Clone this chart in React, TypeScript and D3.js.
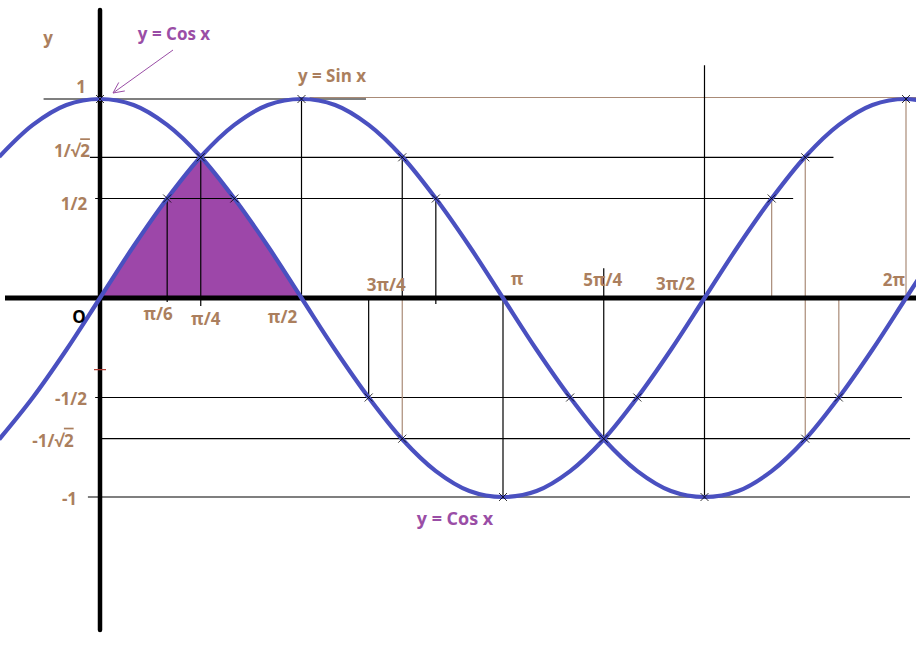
import React from 'react';
import * as d3 from 'd3';

const W = 916;
const H = 645;

// sample positions along x, in multiples of π/12
const angleSteps = [-3, -2, -1, 0, 1, 2, 3, 4, 5, 6, 7, 8, 9, 10, 11, 12, 13, 14, 15, 16, 17, 18, 19, 20, 21, 22, 23, 24, 25];
// values
const sinValues = [-0.71, -0.5, -0.26, 0, 0.26, 0.5, 0.71, 0.87, 0.97, 1, 0.97, 0.87, 0.71, 0.5, 0.26, 0, -0.26, -0.5, -0.71, -0.87, -0.97, -1, -0.97, -0.87, -0.71, -0.5, -0.26, 0, 0.26];
const cosValues = [0.71, 0.87, 0.97, 1, 0.97, 0.87, 0.71, 0.5, 0.26, 0, -0.26, -0.5, -0.71, -0.87, -0.97, -1, -0.97, -0.87, -0.71, -0.5, -0.26, 0, 0.26, 0.5, 0.71, 0.87, 0.97, 1, 0.97];

// axis tick labels
const xTickLabels = ['π/6', 'π/4', 'π/2', '3π/4', 'π', '5π/4', '3π/2', '2π'];
const xTickValues = [1 / 6, 1 / 4, 1 / 2, 3 / 4, 1, 5 / 4, 3 / 2, 2]; // in π
const yTickLabels = ['1', '1/√2', '1/2', '-1/2', '-1/√2', '-1'];
const yTickValues = [1, 0.707, 0.5, -0.5, -0.707, -1];

// horizontal guide lines (value, from t, to t) t in π
const hGuideValues = [1, 1, 0.707, 0.5, -0.5, -0.707, -1];
const hGuideFrom = [-0.14, 0.52, -0.025, -0.012, -0.012, 0, -0.03];
const hGuideTo = [0.66, 2.03, 1.82, 1.72, 1.99, 2.01, 2.01];
const hGuideKind = ['ink', 'pencil', 'ink', 'ink', 'ink', 'ink', 'ink'];

// vertical guide lines (t in π, from value, to value)
const vGuideT = [1 / 6, 1 / 4, 1 / 2, 2 / 3, 3 / 4, 3 / 4, 5 / 6, 1, 5 / 4, 3 / 2, 5 / 3, 7 / 4, 11 / 6, 2];
const vGuideFrom = [0.5, 0.707, 1, 0, 0.707, 0, 0.5, 0, 0.15, 1.17, 0.5, 0.707, 0, 1];
const vGuideTo = [-0.02, -0.04, 0, -0.5, 0, -0.707, -0.03, -1, -0.707, -1, 0, -0.707, -0.5, 0];
const vGuideKind = ['ink', 'ink', 'ink', 'ink', 'ink', 'pencil', 'ink', 'ink', 'ink', 'ink', 'pencil', 'pencil', 'pencil', 'pencil'];

// intersection marks (t in π, value)
const markT = [1 / 6, 1 / 4, 1 / 3, 2 / 3, 3 / 4, 3 / 4, 5 / 6, 7 / 6, 5 / 4, 4 / 3, 5 / 3, 7 / 4, 7 / 4, 11 / 6, 1 / 2, 1, 3 / 2, 2, 0];
const markV = [0.5, 0.707, 0.5, -0.5, 0.707, -0.707, 0.5, -0.5, -0.707, -0.5, 0.5, 0.707, -0.707, -0.5, 1, -1, -1, 1, 1];

const BROWN = '#ab7f5e';
const PURPLE = '#9a4ea6';
const CURVE = '#4a50c0';
const FILL = '#9d47a9';
const PENCIL = '#a98b77';
const FONT = '"Open Sans", "Liberation Sans", sans-serif';

export default function App() {
  const x = d3.scaleLinear().domain([0, 2]).range([100, 906]); // t in π
  const y = d3.scaleLinear().domain([-1, 1]).range([497, 99]);

  const tOf = (k: number) => k / 12;
  const sinPts: [number, number][] = angleSteps.map((k, i) => [x(tOf(k)), y(sinValues[i])]);
  const cosPts: [number, number][] = angleSteps.map((k, i) => [x(tOf(k)), y(cosValues[i])]);

  const line = d3.line<[number, number]>().curve(d3.curveCatmullRom.alpha(0.5));

  // filled region: under sin from 0 to π/4, under cos from π/4 to π/2
  const i0 = angleSteps.indexOf(0);
  const i3 = angleSteps.indexOf(3);
  const i6 = angleSteps.indexOf(6);
  const sinSeg = line(sinPts.slice(i0 - 1, i3 + 2)) || '';
  const cosSeg = line(cosPts.slice(i3 - 1, i6 + 2)) || '';
  const clipLeft = x(0), clipMid = x(0.25), clipRight = x(0.5);

  const x0 = x(0);
  const y0 = y(0);

  const xLabelOffsets: [number, number][] = [
    [-9, 22], [5, 27], [-19, 25], [-16, -7], [14, -13], [-1, -12], [-29, -8], [-12, -12],
  ];
  const yLabelPos: [number, number][] = [
    [81, -6], [72, 0], [74, 11.5], [71, 7.5], [53, 8], [69.5, 8],
  ];

  const textStyle: React.CSSProperties = { fontFamily: FONT, fontWeight: 700, fontSize: 17 };

  const renderYLabel = (s: string) => {
    const idx = s.indexOf('√');
    if (idx < 0) return s;
    return (
      <>
        {s.slice(0, idx + 1)}
        <tspan style={{ textDecoration: 'overline' }}>{s.slice(idx + 1)}</tspan>
      </>
    );
  };

  const arrowTip: [number, number] = [x0 + 13, y(1) - 6];
  const arrowTail: [number, number] = [x0 + 73, y(1) - 49];
  const ang = Math.atan2(arrowTail[1] - arrowTip[1], arrowTail[0] - arrowTip[0]);
  const ah = 12;

  return (
    <svg width={W} height={H} style={{ position: 'absolute', left: 0, top: 0, background: '#fff' }}>
      <defs>
        <clipPath id="clipA">
          <rect x={clipLeft} y={0} width={clipMid - clipLeft} height={H} />
        </clipPath>
        <clipPath id="clipB">
          <rect x={clipMid} y={0} width={clipRight - clipMid} height={H} />
        </clipPath>
      </defs>

      {/* shaded region */}
      <path d={`${sinSeg}L${x(tOf(angleSteps[i3 + 1]))},${y0}L${x(-1 / 12)},${y0}Z`} fill={FILL} clipPath="url(#clipA)" />
      <path d={`${cosSeg}L${x(tOf(angleSteps[i6 + 1]))},${y0}L${x(tOf(angleSteps[i3 - 1]))},${y0}Z`} fill={FILL} clipPath="url(#clipB)" />

      {/* horizontal guides */}
      {hGuideValues.map((v, i) => (
        <line key={'h' + i} x1={x(hGuideFrom[i])} x2={x(hGuideTo[i])} y1={y(v) + (hGuideKind[i] === 'pencil' ? -1.5 : 0)} y2={y(v) + (hGuideKind[i] === 'pencil' ? -1.5 : 0)}
          stroke={hGuideKind[i] === 'pencil' ? PENCIL : '#000'} strokeWidth={1.2} />
      ))}

      {/* vertical guides */}
      {vGuideT.map((t, i) => (
        <line key={'v' + i} x1={x(t)} x2={x(t)} y1={y(vGuideFrom[i])} y2={y(vGuideTo[i])}
          stroke={vGuideKind[i] === 'pencil' ? PENCIL : '#000'} strokeWidth={1.2} />
      ))}

      {/* axes */}
      <line x1={5} x2={W} y1={y0} y2={y0} stroke="#000" strokeWidth={5} />
      <line x1={x0} x2={x0} y1={10} y2={630} stroke="#000" strokeWidth={4.5} strokeLinecap="round" />
      <line x1={x0 - 6} x2={x0 + 6} y1={y(-0.36)} y2={y(-0.36)} stroke="#b03a2e" strokeWidth={1.2} />

      {/* curves */}
      <path d={line(cosPts) || ''} fill="none" stroke={CURVE} strokeWidth={4.2} strokeLinejoin="round" />
      <path d={line(sinPts) || ''} fill="none" stroke={CURVE} strokeWidth={4.2} strokeLinejoin="round" />

      {/* intersection marks */}
      {markT.map((t, i) => {
        const cx = x(t), cy = y(markV[i]);
        return (
          <g key={'m' + i} stroke="#000" strokeWidth={0.8}>
            <line x1={cx - 4} y1={cy - 4} x2={cx + 4} y2={cy + 4} />
            <line x1={cx - 4} y1={cy + 4} x2={cx + 4} y2={cy - 4} />
          </g>
        );
      })}

      {/* tick labels */}
      {xTickLabels.map((s, i) => (
        <text key={'xl' + i} x={x(xTickValues[i]) + xLabelOffsets[i][0]} y={y0 + xLabelOffsets[i][1]}
          textAnchor="middle" fill={BROWN} style={textStyle}>{s}</text>
      ))}
      {yTickLabels.map((s, i) => (
        <text key={'yl' + i} x={yLabelPos[i][0]} y={y(yTickValues[i]) + yLabelPos[i][1]}
          textAnchor="middle" fill={BROWN} style={textStyle}>{renderYLabel(s)}</text>
      ))}
      <text x={79} y={y0 + 25} textAnchor="middle" fill="#000" style={textStyle}>O</text>
      <text x={48} y={44} textAnchor="middle" fill={BROWN} style={textStyle}>y</text>

      {/* curve names */}
      <text x={174} y={40} textAnchor="middle" fill={PURPLE} style={textStyle}>y = Cos x</text>
      <text x={332} y={82} textAnchor="middle" fill={BROWN} style={textStyle}>y = Sin x</text>
      <text x={455} y={525} textAnchor="middle" fill={PURPLE} style={{ ...textStyle, fontSize: 18 }}>y = Cos x</text>

      {/* arrow */}
      <g stroke={PURPLE} strokeWidth={1} fill="none">
        <line x1={arrowTail[0]} y1={arrowTail[1]} x2={arrowTip[0]} y2={arrowTip[1]} />
        <line x1={arrowTip[0]} y1={arrowTip[1]} x2={arrowTip[0] + ah * Math.cos(ang + 0.45)} y2={arrowTip[1] + ah * Math.sin(ang + 0.45)} />
        <line x1={arrowTip[0]} y1={arrowTip[1]} x2={arrowTip[0] + ah * Math.cos(ang - 0.45)} y2={arrowTip[1] + ah * Math.sin(ang - 0.45)} />
      </g>
    </svg>
  );
}
